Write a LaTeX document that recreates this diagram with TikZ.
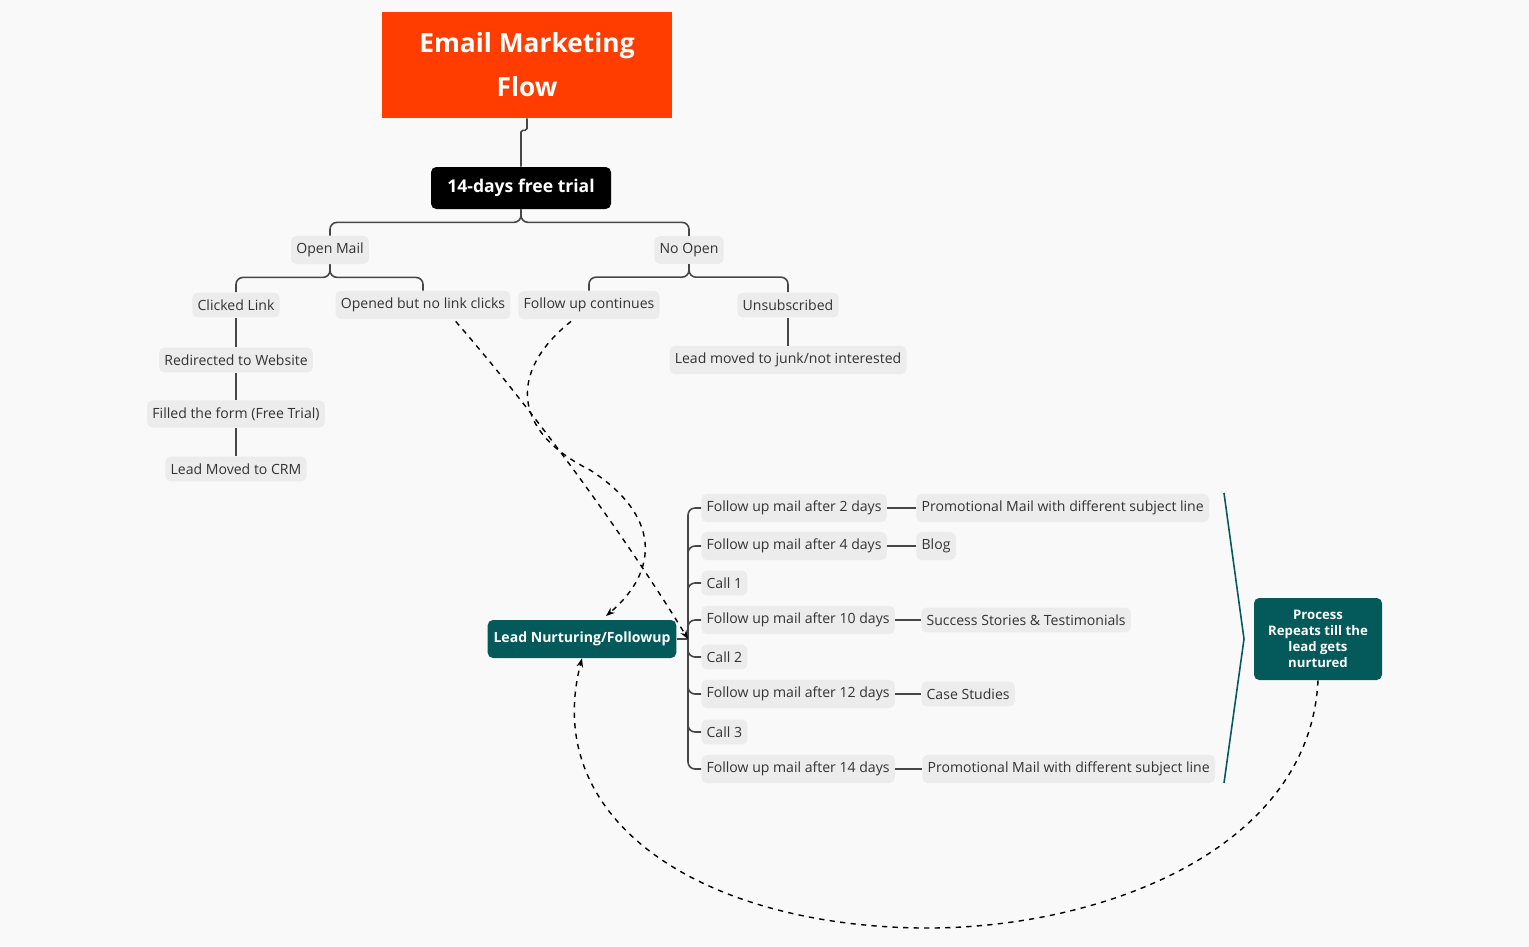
\documentclass[tikz,border=0pt]{standalone}
\usepackage{fontspec}
\setmainfont{Open Sans}
\usetikzlibrary{arrows.meta}
\definecolor{bg}{HTML}{F9F9F9}
\definecolor{titlered}{HTML}{FF3D00}
\definecolor{teal}{HTML}{045A5A}
\definecolor{leafgray}{HTML}{ECECEC}
\definecolor{txt}{HTML}{333333}
\begin{document}
\begin{tikzpicture}[x=0.02cm, y=-0.02cm,
    leaf/.style={fill=leafgray, rounded corners=3pt, inner xsep=3pt, inner ysep=4pt, font=\fontsize{8}{9}\selectfont, text=txt},
    link/.style={draw=txt!90, line width=0.9pt, rounded corners=4pt},
    teal box/.style={fill=teal, rounded corners=3pt, text=white, font=\bfseries\fontsize{8}{9}\selectfont},
    flow/.style={dashed, line width=0.8pt, -{Stealth[length=5pt]}}]
  \fill[bg] (0,0) rectangle (1529,947);
  % top
  \node (title)[fill=titlered, text=white, minimum width=290*0.02cm, minimum height=106*0.02cm, align=center, font=\bfseries\fontsize{15}{25}\selectfont] at (527,65) {Email Marketing\\Flow};
  \node (trial)[fill=black, text=white, rounded corners=3pt, minimum width=180*0.02cm, minimum height=42*0.02cm, font=\bfseries\fontsize{10}{12}\selectfont] at (521,188) {14-days free trial};
  \draw[link, rounded corners=1pt] (title.south) -- ++(0,12) -| (trial.north);
  % first level
  \node (open)[leaf] at (330,250) {Open Mail};
  \node (noopen)[leaf] at (689,250) {No Open};
  \draw[link] (trial.south) -- ++(0,13) -| (open.north);
  \draw[link] (trial.south) -- ++(0,13) -| (noopen.north);
  % second level
  \node (clicked)[leaf] at (236,305) {Clicked Link};
  \node (noclick)[leaf] at (423,305) {Opened but no link clicks};
  \node (follow)[leaf] at (589,305) {Follow up continues};
  \node (unsub)[leaf] at (788,305) {Unsubscribed};
  \draw[link] (open.south) -- ++(0,13) -| (clicked.north);
  \draw[link] (open.south) -- ++(0,13) -| (noclick.north);
  \draw[link] (noopen.south) -- ++(0,13) -| (follow.north);
  \draw[link] (noopen.south) -- ++(0,13) -| (unsub.north);
  \node (junk)[leaf] at (788,360) {Lead moved to junk/not interested};
  \draw[link] (unsub) -- (junk);
  % clicked chain
  \node (site)[leaf] at (236,360) {Redirected to Website};
  \node (form)[leaf] at (236,414) {Filled the form (Free Trial)};
  \node (crm)[leaf] at (236,469) {Lead Moved to CRM};
  \draw[link] (clicked) -- (site);
  \draw[link] (site) -- (form);
  \draw[link] (form) -- (crm);
  % nurturing
  \node (lead)[teal box, minimum width=185*0.02cm, minimum height=38*0.02cm] at (582,639) {Lead Nurturing/Followup};
  \coordinate (hub) at (688,639);
  \draw[link] (lead.east) -- (hub);
  \foreach \name/\yy/\lab in {f2/508/Follow up mail after 2 days, f4/546/Follow up mail after 4 days, c1/583/Call 1, f10/620/Follow up mail after 10 days, c2/657/Call 2, f12/694/Follow up mail after 12 days, c3/732/Call 3, f14/769/Follow up mail after 14 days}{
    \node (\name)[leaf, anchor=west] at (701,\yy) {\lab};
    \draw[link] (hub) |- (\name.west);
  }
  \node (p2)[leaf, anchor=west] at (916,508) {Promotional Mail with different subject line};
  \node (blog)[leaf, anchor=west] at (916,546) {Blog};
  \node (succ)[leaf, anchor=west] at (921,620) {Success Stories \& Testimonials};
  \node (case)[leaf, anchor=west] at (921,694) {Case Studies};
  \node (p14)[leaf, anchor=west] at (922,769) {Promotional Mail with different subject line};
  \draw[link] (f2) -- (p2);
  \draw[link] (f4) -- (blog);
  \draw[link] (f10) -- (succ);
  \draw[link] (f12) -- (case);
  \draw[link] (f14) -- (p14);
  % repeat
  \node (repeat)[teal box, minimum width=128*0.02cm, minimum height=82*0.02cm, align=center, font=\bfseries\fontsize{7.5}{9}\selectfont] at (1318,639) {Process\\Repeats till the\\lead gets\\nurtured};
  \coordinate (b1) at (1224,493);
  \coordinate (b2) at (1244,639);
  \coordinate (b3) at (1224,783);
  \draw[teal, line width=0.9pt] (b1) -- (b2) -- (b3);
  % dashed flows
  \draw[flow] (noclick.south east) ++(-55,2) .. controls (550,430) and (640,560) .. (hub);
  \draw[flow] (follow.south) ++(-18,2) .. controls (510,370) and (510,430) .. (590,470) .. controls (660,515) and (660,570) .. (606,616);
  \draw[flow] (repeat.south) .. controls (1310,850) and (1100,930) .. (920,928) .. controls (700,925) and (540,820) .. (lead.south);
\end{tikzpicture}
\end{document}
